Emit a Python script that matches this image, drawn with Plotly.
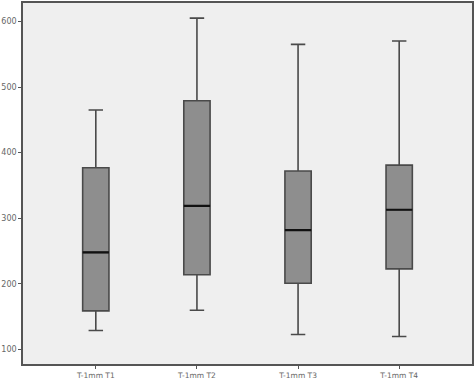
import plotly.graph_objects as go

categories = ["T-1mm T1", "T-1mm T2", "T-1mm T3", "T-1mm T4"]
lower = [129, 160, 123, 120]
q1 = [159, 214, 201, 223]
median = [248, 319, 282, 313]
q3 = [377, 479, 372, 381]
upper = [465, 605, 565, 570]
y_ticks = [100, 200, 300, 400, 500, 600]

fig = go.Figure()
fig.add_trace(go.Box(
    x=categories, q1=q1, median=median, q3=q3,
    lowerfence=lower, upperfence=upper,
    fillcolor="#8e8e8e", line=dict(color="#4a4a4a", width=1.6),
    width=0.26, whiskerwidth=0.55, boxpoints=False, hoverinfo="skip",
    showlegend=False,
))
fig.add_trace(go.Box(
    x=categories, q1=median, median=median, q3=median,
    lowerfence=median, upperfence=median,
    fillcolor="rgba(0,0,0,0)", line=dict(color="#111111", width=2.2),
    width=0.26, whiskerwidth=0, boxpoints=False, hoverinfo="skip",
    showlegend=False,
))

fig.update_layout(
    width=474, height=380,
    margin=dict(l=23, r=2, t=3, b=16),
    paper_bgcolor="white", plot_bgcolor="#efefef",
    font=dict(family="DejaVu Sans", size=8, color="#666666"),
    xaxis=dict(
        type="category", range=[-0.72, 3.72], automargin=False,
        showline=True, linecolor="#555555", linewidth=1.5, mirror=True,
        ticks="outside", ticklen=3, tickcolor="#555555", tickwidth=1,
        showgrid=False, zeroline=False,
        tickfont=dict(size=7.5, color="#666666"),
    ),
    yaxis=dict(
        range=[78, 628], tickvals=y_ticks, automargin=False,
        showline=True, linecolor="#555555", linewidth=1.5, mirror=True,
        ticks="outside", ticklen=3, tickcolor="#555555", tickwidth=1,
        showgrid=False, zeroline=False,
        tickfont=dict(size=8, color="#666666"),
    ),
)
fig.write_html(
    "out.html",
    config={"displayModeBar": False},
    post_script="document.body.style.margin='0';document.body.style.overflow='hidden';",
)
